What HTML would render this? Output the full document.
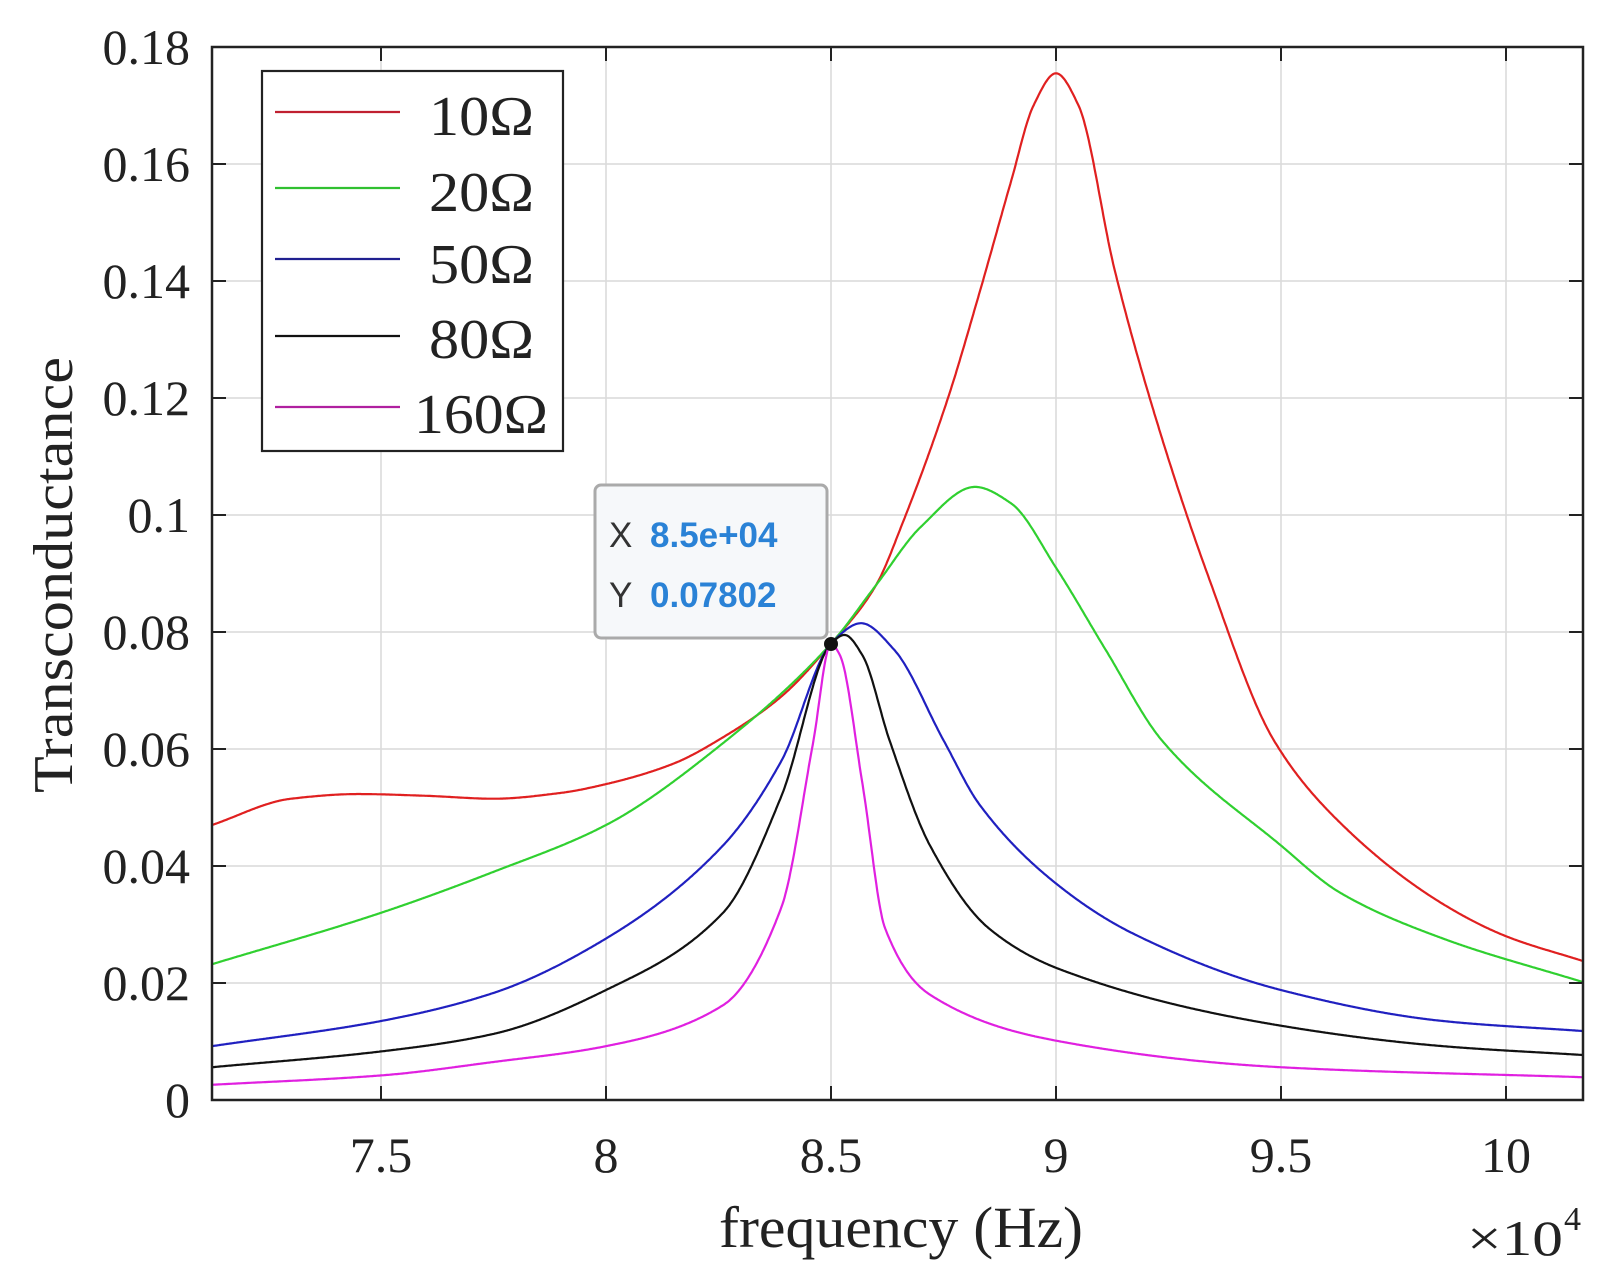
<!DOCTYPE html>
<html><head><meta charset="utf-8"><style>
html,body{margin:0;padding:0;background:#fff;}
svg{display:block;font-family:"Liberation Serif",serif;}
</style></head><body>
<svg id="s" width="1617" height="1283" viewBox="0 0 1617 1283" xmlns="http://www.w3.org/2000/svg">
<rect width="1617" height="1283" fill="#fff"/>
<g id="grid" stroke="#d9d9d9" stroke-width="1.5"></g>
<g id="curves" fill="none" stroke-width="2.2" stroke-linejoin="round"></g>
<g id="axes"></g>
<g font-size="50" fill="#222" id="labels"></g>
<text x="719" y="1247" font-size="58" fill="#222" textLength="364" lengthAdjust="spacingAndGlyphs">frequency (Hz)</text>
<text transform="translate(72,575) rotate(-90)" text-anchor="middle" font-size="56" fill="#222" textLength="436" lengthAdjust="spacingAndGlyphs">Transconductance</text>
<text x="1467" y="1255" font-size="50" fill="#222" textLength="96" lengthAdjust="spacingAndGlyphs">×10</text>
<text x="1564" y="1230" font-size="34" fill="#222">4</text>
<!-- legend -->
<rect x="262" y="71" width="301" height="380" fill="#fff" stroke="#222" stroke-width="2.2"/>
<g stroke-width="2.2">
<line x1="275" y1="112" x2="400" y2="112" stroke="#c02030"/>
<line x1="275" y1="188" x2="400" y2="188" stroke="#30c030"/>
<line x1="275" y1="259" x2="400" y2="259" stroke="#202090"/>
<line x1="275" y1="336" x2="400" y2="336" stroke="#111"/>
<line x1="275" y1="407" x2="400" y2="407" stroke="#b020a0"/>
</g>
<g font-size="56" fill="#222">
<text x="429" y="135" textLength="105" lengthAdjust="spacingAndGlyphs">10Ω</text>
<text x="429" y="211" textLength="105" lengthAdjust="spacingAndGlyphs">20Ω</text>
<text x="429" y="283" textLength="105" lengthAdjust="spacingAndGlyphs">50Ω</text>
<text x="429" y="358" textLength="105" lengthAdjust="spacingAndGlyphs">80Ω</text>
<text x="414" y="433" textLength="134" lengthAdjust="spacingAndGlyphs">160Ω</text>
</g>
<!-- datatip -->
<rect x="595" y="485" width="232" height="153" rx="6" fill="#f6f8fa" stroke="#aaa" stroke-width="3"/>
<g font-family="Liberation Sans,sans-serif" font-size="35">
<text x="609" y="547" fill="#333">X</text>
<text x="650" y="547" fill="#2a82d6" font-weight="bold">8.5e+04</text>
<text x="609" y="607" fill="#333">Y</text>
<text x="650" y="607" fill="#2a82d6" font-weight="bold">0.07802</text>
</g>
<circle id="pt" cx="831" cy="644" r="7" fill="#111"/>
</svg>
<script>
var NS="http://www.w3.org/2000/svg";
function X(v){return 831+(v-8.5)*450;}
function Y(v){return 1100-v*5850;}
var L=212,R=1583,T=47,B=1100;
function el(p,tag,a){var e=document.createElementNS(NS,tag);for(var k in a)e.setAttribute(k,a[k]);p.appendChild(e);return e;}
var g=document.getElementById('grid'),ax=document.getElementById('axes'),lb=document.getElementById('labels');
var xt=[7.5,8,8.5,9,9.5,10],xl=["7.5","8","8.5","9","9.5","10"];
xt.forEach(function(v,i){var x=X(v);el(g,'line',{x1:x,y1:T,x2:x,y2:B});
el(ax,'line',{x1:x,y1:B,x2:x,y2:B-14,stroke:'#222','stroke-width':2});
el(ax,'line',{x1:x,y1:T,x2:x,y2:T+14,stroke:'#222','stroke-width':2});
var t=el(lb,'text',{x:x,y:1172,'text-anchor':'middle'});t.textContent=xl[i];});
for(var i=0;i<=9;i++){var v=i*0.02,y=Y(v);
if(i>0&&i<9)el(g,'line',{x1:L,y1:y,x2:R,y2:y});
el(ax,'line',{x1:L,y1:y,x2:L+14,y2:y,stroke:'#222','stroke-width':2});
el(ax,'line',{x1:R,y1:y,x2:R-14,y2:y,stroke:'#222','stroke-width':2});
var t=el(lb,'text',{x:190,y:y+17,'text-anchor':'end'});t.textContent=(i==0?"0":(i%5==0?(v).toFixed(1):(+v.toFixed(2)).toString()));}
el(ax,'rect',{x:L,y:T,width:R-L,height:B-T,fill:'none',stroke:'#222','stroke-width':2.5});
var D={
'#e02020':[[7.124,0.047],[7.3,0.0515],[7.45,0.0523],[7.6,0.052],[7.75,0.0515],[7.9,0.0525],[8.0,0.054],[8.15,0.0575],[8.26,0.062],[8.39,0.069],[8.5,0.078],[8.6,0.088],[8.66,0.0988],[8.76,0.12],[8.83,0.138],[8.9,0.157],[8.95,0.170],[9.0,0.1755],[9.05,0.170],[9.13,0.142],[9.22,0.117],[9.338,0.0896],[9.484,0.0615],[9.63,0.0475],[9.86,0.0335],[10.0,0.028],[10.169,0.0238]],
'#30d030':[[7.124,0.0232],[7.5,0.032],[7.75,0.039],[8.0,0.047],[8.26,0.061],[8.5,0.078],[8.6,0.088],[8.7,0.098],[8.82,0.1048],[8.9,0.102],[9.0,0.091],[9.11,0.077],[9.235,0.0615],[9.5,0.0435],[9.63,0.0355],[9.86,0.0276],[10.169,0.0202]],
'#2020c0':[[7.124,0.0092],[7.5,0.0135],[7.75,0.0183],[8.0,0.0276],[8.26,0.0435],[8.39,0.058],[8.5,0.078],[8.567,0.0815],[8.64,0.077],[8.75,0.0615],[8.83,0.0505],[9.01,0.0364],[9.17,0.0285],[9.5,0.0188],[9.86,0.0135],[10.169,0.0118]],
'#111111':[[7.124,0.0056],[7.5,0.0083],[7.75,0.0113],[8.0,0.0188],[8.26,0.032],[8.39,0.052],[8.5,0.078],[8.53,0.0795],[8.57,0.076],[8.63,0.0615],[8.72,0.0435],[8.85,0.0294],[9.01,0.0223],[9.5,0.0127],[9.86,0.0092],[10.169,0.0077]],
'#e020e0':[[7.124,0.0026],[7.5,0.0042],[7.75,0.0065],[8.0,0.0092],[8.26,0.0162],[8.39,0.033],[8.46,0.061],[8.5,0.078],[8.52,0.076],[8.57,0.054],[8.62,0.0294],[8.72,0.018],[9.01,0.010],[9.5,0.0056],[10.169,0.0039]]};
function mono(P){var n=P.length,xs=P.map(function(p){return p[0]}),ys=P.map(function(p){return p[1]});
var d=[],m=[];for(var i=0;i<n-1;i++)d.push((ys[i+1]-ys[i])/(xs[i+1]-xs[i]));
m[0]=d[0];m[n-1]=d[n-2];
for(var i=1;i<n-1;i++){if(d[i-1]*d[i]<=0)m[i]=0;else{var w1=2*(xs[i+1]-xs[i])+(xs[i]-xs[i-1]),w2=(xs[i+1]-xs[i])+2*(xs[i]-xs[i-1]);m[i]=(w1+w2)/(w1/d[i-1]+w2/d[i]);}}
return function(x){var i=0;while(i<n-2&&x>xs[i+1])i++;var h=xs[i+1]-xs[i],t=(x-xs[i])/h,t2=t*t,t3=t2*t;
return (2*t3-3*t2+1)*ys[i]+(t3-2*t2+t)*h*m[i]+(-2*t3+3*t2)*ys[i+1]+(t3-t2)*h*m[i+1];};}
var cg=document.getElementById('curves');
for(var c in D){var f=mono(D[c]);var d="";
for(var k=0;k<=1400;k++){var v=7.124+(10.169-7.124)*k/1400;d+=(k?"L":"M")+X(v).toFixed(1)+","+Y(f(v)).toFixed(1);}
el(cg,'path',{d:d,stroke:c});}
</script>
</body></html>
